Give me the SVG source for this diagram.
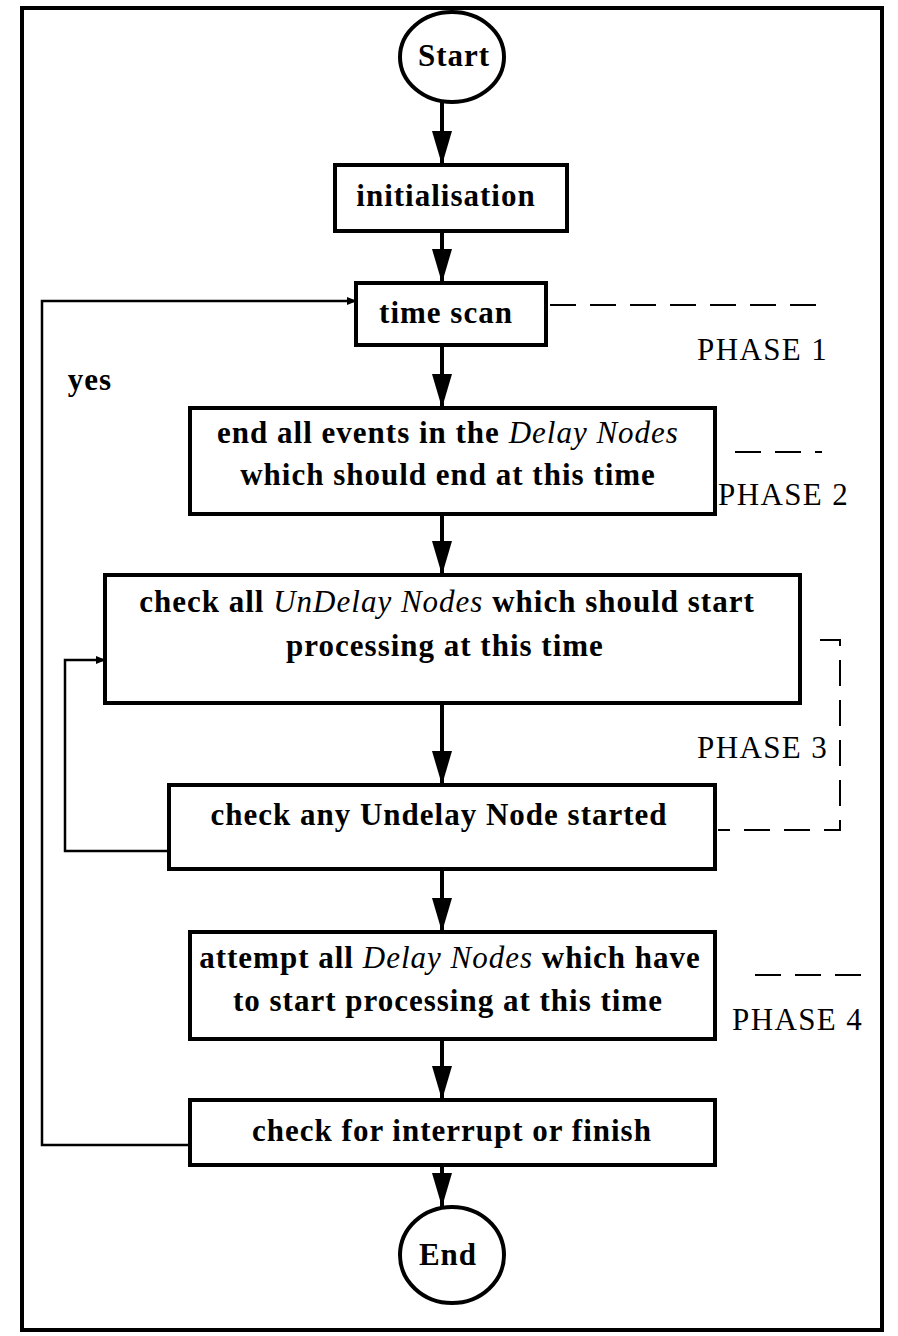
<svg xmlns="http://www.w3.org/2000/svg" width="898" height="1336" viewBox="0 0 898 1336">
<style>
.b{fill:#fff;stroke:#000;stroke-width:4}
.t{font-family:"Liberation Serif",serif;font-weight:bold;font-size:31px;text-anchor:middle;letter-spacing:1px}
.p{font-family:"Liberation Serif",serif;font-size:31px;letter-spacing:1.4px}
.l{fill:none;stroke:#000;stroke-width:4}
.d{fill:none;stroke:#000;stroke-width:2;stroke-dasharray:26,14}
</style>
<defs><marker id="a" markerWidth="10" markerHeight="8" refX="9" refY="4" orient="auto" markerUnits="userSpaceOnUse" viewBox="0 0 10 8"><path d="M0,0L10,4L0,8z"/></marker>
<marker id="A" markerWidth="34" markerHeight="20" refX="34" refY="10" orient="auto" markerUnits="userSpaceOnUse"><path d="M0,0L34,10L0,20z"/></marker></defs>
<rect x="22" y="8" width="860" height="1322" fill="#fff" stroke="#000" stroke-width="4"/>
<g id="connectors">
<line class="l" x1="442" y1="102" x2="442" y2="165" marker-end="url(#A)"/>
<line class="l" x1="442" y1="231" x2="442" y2="283" marker-end="url(#A)"/>
<line class="l" x1="442" y1="345" x2="442" y2="408" marker-end="url(#A)"/>
<line class="l" x1="442" y1="514" x2="442" y2="575" marker-end="url(#A)"/>
<line class="l" x1="442" y1="703" x2="442" y2="785" marker-end="url(#A)"/>
<line class="l" x1="442" y1="869" x2="442" y2="932" marker-end="url(#A)"/>
<line class="l" x1="442" y1="1039" x2="442" y2="1100" marker-end="url(#A)"/>
<line class="l" x1="442" y1="1165" x2="442" y2="1207" marker-end="url(#A)"/>
<polyline fill="none" stroke="#000" stroke-width="2.5" points="169,851 65,851 65,660 105,660" marker-end="url(#a)"/>
<polyline fill="none" stroke="#000" stroke-width="2.5" points="190,1145 42,1145 42,301 356,301" marker-end="url(#a)"/>
<line class="d" x1="550" y1="305" x2="822" y2="305"/>
<line class="d" x1="735" y1="452" x2="822" y2="452"/>
<polyline class="d" points="820,640 840,640 840,830 718,830"/>
<line class="d" x1="755" y1="975" x2="862" y2="975"/>
</g>
<g id="start"><ellipse class="b" cx="452" cy="57" rx="52" ry="45"/><text class="t" x="454" y="66">Start</text></g>
<g id="init"><rect class="b" x="335" y="165" width="232" height="66"/><text class="t" x="446" y="206">initialisation</text></g>
<g id="timescan"><rect class="b" x="356" y="283" width="190" height="62"/><text class="t" x="446" y="323">time scan</text></g>
<g id="endevents"><rect class="b" x="190" y="408" width="525" height="106"/><text class="t" x="448" y="443">end all events in the <tspan font-style="italic" font-weight="normal">Delay Nodes</tspan></text><text class="t" x="448" y="485">which should end at this time</text></g>
<g id="checkall"><rect class="b" x="105" y="575" width="695" height="128"/><text class="t" x="447" y="612">check all <tspan font-style="italic" font-weight="normal">UnDelay Nodes</tspan> which should start</text><text class="t" x="445" y="656">processing at this time</text></g>
<g id="checkany"><rect class="b" x="169" y="785" width="546" height="84"/><text class="t" x="439" y="825">check any Undelay Node started</text></g>
<g id="attempt"><rect class="b" x="190" y="932" width="525" height="107"/><text class="t" x="450" y="968">attempt all <tspan font-style="italic" font-weight="normal">Delay Nodes</tspan> which have</text><text class="t" x="448" y="1011">to start processing at this time</text></g>
<g id="checkint"><rect class="b" x="190" y="1100" width="525" height="65"/><text class="t" x="452" y="1141">check for interrupt or finish</text></g>
<g id="end"><ellipse class="b" cx="452" cy="1255" rx="52" ry="48"/><text class="t" x="448" y="1265">End</text></g>
<text class="p" x="697" y="360">PHASE 1</text>
<text class="p" x="718" y="505">PHASE 2</text>
<text class="p" x="697" y="758">PHASE 3</text>
<text class="p" x="732" y="1030">PHASE 4</text>
<text class="t" x="90" y="390">yes</text>
</svg>
